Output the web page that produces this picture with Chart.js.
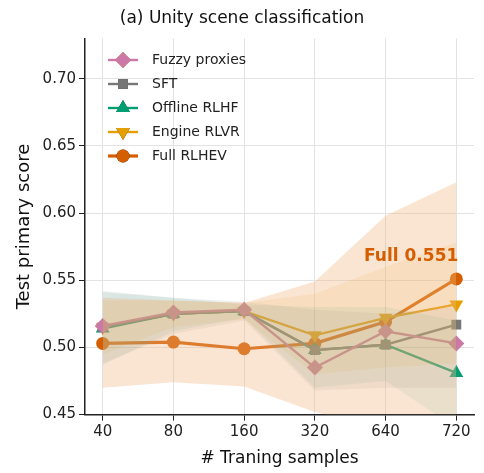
<!DOCTYPE html>
<html><head><script src="https://cdn.jsdelivr.net/npm/chart.js@4"></script>
<style>body{margin:0;background:#fff}#wrap{width:484px;height:473px}</style></head>
<body><div id="wrap"><canvas id="c"></canvas></div>
<script>
var labels = ['40', '80', '160', '320', '640', '720'];
var fuzzy = [0.516, 0.526, 0.528, 0.485, 0.512, 0.503];
var sft = [0.515, 0.525, 0.527, 0.498, 0.502, 0.517];
var offline = [0.514, 0.525, 0.527, 0.498, 0.502, 0.481];
var engine = [0.515, 0.525, 0.527, 0.509, 0.522, 0.532];
var full = [0.503, 0.504, 0.499, 0.503, 0.519, 0.551];
var fullLo = [0.470, 0.474, 0.471, 0.452, 0.440, 0.420];
var fullHi = [0.537, 0.535, 0.533, 0.549, 0.598, 0.623];
var sftLo = [0.488, 0.510, 0.520, 0.468, 0.470, 0.470];
var sftHi = [0.542, 0.537, 0.534, 0.528, 0.525, 0.530];
var offLo = [0.487, 0.512, 0.522, 0.470, 0.475, 0.440];
var offHi = [0.541, 0.537, 0.532, 0.530, 0.530, 0.520];
var engLo = [0.495, 0.515, 0.521, 0.480, 0.485, 0.488];
var engHi = [0.535, 0.535, 0.533, 0.540, 0.560, 0.578];

var series = [
  {label: 'Fuzzy proxies', data: fuzzy, color: '#CC79A7', style: 'rectRot', rot: 0, r: 8},
  {label: 'SFT', data: sft, color: '#777777', style: 'rect', rot: 0, r: 7},
  {label: 'Offline RLHF', data: offline, color: '#009E73', style: 'triangle', rot: 0, r: 8},
  {label: 'Engine RLVR', data: engine, color: '#E69F00', style: 'triangle', rot: 180, r: 8},
  {label: 'Full RLHEV', data: full, color: '#D55E00', style: 'circle', rot: 0, r: 6.5}
];

function pts(arr) { return arr.map(function (v, i) { return {x: i, y: v}; }); }
function band(lo, hi, col) {
  return [
    {data: pts(lo), borderWidth: 0, borderColor: 'rgba(0,0,0,0)', pointRadius: 0, fill: false},
    {data: pts(hi), borderWidth: 0, borderColor: 'rgba(0,0,0,0)', pointRadius: 0, fill: '-1', backgroundColor: col}
  ];
}
var datasets = [].concat(
  band(fullLo, fullHi, 'rgba(240,180,130,0.35)'),
  band(sftLo, sftHi, 'rgba(150,150,150,0.15)'),
  band(offLo, offHi, 'rgba(0,158,115,0.10)'),
  band(engLo, engHi, 'rgba(230,159,0,0.12)')
);
series.forEach(function (s) {
  datasets.push({label: s.label, data: pts(s.data), borderColor: s.color, backgroundColor: s.color,
    borderWidth: s.label === 'Full RLHEV' ? 3.2 : 2.4, pointStyle: s.style, rotation: s.rot,
    pointRadius: s.r, pointBorderWidth: 0, fill: false, lineTension: 0});
});

var extras = {
  id: 'extras',
  afterDraw: function (chart) {
    var ctx = chart.ctx, x = chart.scales.x, y = chart.scales.y;
    ctx.save();
    ctx.font = 'bold 17px "DejaVu Sans"';
    ctx.fillStyle = '#D55E00';
    ctx.textAlign = 'right';
    ctx.fillText('Full 0.551', x.getPixelForValue(5) + 2, y.getPixelForValue(0.551) - 18);
    ctx.textAlign = 'left';
    ctx.textBaseline = 'middle';
    ctx.font = '14px "DejaVu Sans"';
    series.forEach(function (s, i) {
      var ly = 60 + i * 24, lx = 108;
      ctx.strokeStyle = s.color;
      ctx.lineWidth = s.label === 'Full RLHEV' ? 3.2 : 2.4;
      ctx.beginPath(); ctx.moveTo(lx, ly); ctx.lineTo(lx + 30, ly); ctx.stroke();
      Chart.helpers.drawPoint(ctx, {pointStyle: s.style, rotation: s.rot, radius: s.r, borderWidth: 0},
        lx + 15, ly);
      ctx.fillStyle = s.color; ctx.fill();
      ctx.fillStyle = '#222';
      ctx.fillText(s.label, lx + 44, ly);
    });
    ctx.restore();
  }
};

new Chart(document.getElementById('c'), {
  type: 'line',
  data: {datasets: datasets},
  plugins: [extras],
  options: {
    responsive: true, maintainAspectRatio: false, animation: false,
    layout: {padding: {right: 10, top: 0, left: 10}},
    plugins: {
      legend: {display: false}, tooltip: {enabled: false},
      title: {display: true, text: '(a) Unity scene classification', color: '#111',
        font: {size: 17, family: 'DejaVu Sans', weight: 'normal'}, padding: {top: 8, bottom: 10}}
    },
    scales: {
      x: {type: 'linear', min: -0.25, max: 5.25, grid: {color: '#e3e3e3', tickColor: '#222', tickLength: 6},
        border: {color: '#222', width: 1.5},
        afterBuildTicks: function (a) { a.ticks = labels.map(function (l, i) { return {value: i}; }); },
        ticks: {color: '#222', font: {size: 15, family: 'DejaVu Sans'}, callback: function (v) { return labels[v]; }},
        title: {display: true, text: '# Traning samples', color: '#111', font: {size: 17, family: 'DejaVu Sans'}}},
      y: {min: 0.45, max: 0.73, grid: {color: '#e3e3e3', tickColor: '#222', tickLength: 6},
        border: {color: '#222', width: 1.5},
        afterBuildTicks: function (a) { a.ticks = [0.45, 0.5, 0.55, 0.6, 0.65, 0.7].map(function (v) { return {value: v}; }); },
        ticks: {color: '#222', font: {size: 15, family: 'DejaVu Sans'}, callback: function (v) { return v.toFixed(2); }},
        title: {display: true, text: 'Test primary score', color: '#111', font: {size: 18, family: 'DejaVu Sans'}}}
    }
  }
});
</script></body></html>
